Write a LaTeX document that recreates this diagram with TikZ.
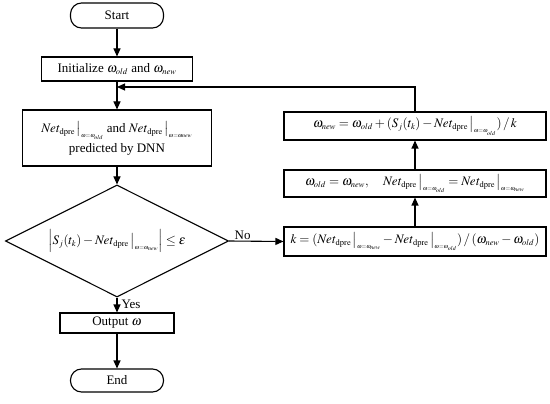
\documentclass[tikz,border=0pt]{standalone}
\usepackage{mathptmx}
\usepackage[no-math]{fontspec}
\setmainfont{Liberation Serif}
\DeclareMathSizes{13}{13}{8.5}{6}
\usetikzlibrary{arrows.meta,shapes.geometric}
\newcommand{\evalat}[2]{#1\,\big|_{\scriptscriptstyle #2}}
\newcommand{\Nd}{\mathit{Net}_{\mathrm{dpre}}}
\begin{document}
\begin{tikzpicture}[x=1pt,y=-1pt,
  every node/.style={font=\fontsize{13}{16}\selectfont},
  box/.style={draw,line width=1.1pt,inner sep=0pt,align=center},
  term/.style={box,rounded corners=11pt},
  conn/.style={line width=1.1pt,-{Triangle[length=8pt,width=7pt]}},
  lbl/.style={inner sep=1pt}]
\useasboundingbox (0,0) rectangle (550,404);
\node[term,minimum width=93pt,minimum height=25pt] (start) at (117,15.5) {Start};
\node[box,minimum width=151pt,minimum height=24pt] (init) at (117,69) {Initialize $\omega_{old}$ and $\omega_{new}$};
\node[box,minimum width=189pt,minimum height=56pt] (net) at (117,138)
  {$\evalat{\Nd}{\omega=\omega_{old}}$ and $\evalat{\Nd}{\omega=\omega_{new}}$\\[3pt] predicted by DNN};
\node[diamond,draw,line width=1.1pt,inner sep=0pt,minimum width=223pt,minimum height=112pt] (dia) at (117,241) {};
\node at (dia.center) {$\left|S_j(t_k)-\evalat{\Nd}{\omega=\omega_{new}}\right|\le\varepsilon$};
\node[box,minimum width=114pt,minimum height=20pt] (out) at (117,323) {Output $\omega$};
\node[term,minimum width=93pt,minimum height=23pt] (end) at (117,380.5) {End};
\node[box,minimum width=262pt,minimum height=28pt] (wnew) at (415,126)
  {$\omega_{new}=\omega_{old}+(S_j(t_k)-\evalat{\Nd}{\omega=\omega_{old}})\,/\,k$};
\node[box,minimum width=262pt,minimum height=27pt] (wold) at (415,183.5)
  {$\omega_{old}=\omega_{new},\quad \evalat{\Nd}{\omega=\omega_{old}}=\evalat{\Nd}{\omega=\omega_{new}}$};
\node[box,minimum width=262pt,minimum height=29pt] (kbox) at (415,241.5)
  {$k=(\evalat{\Nd}{\omega=\omega_{new}}-\evalat{\Nd}{\omega=\omega_{old}})\,/\,(\omega_{new}-\omega_{old})$};
\coordinate (j) at (117,87);
\draw[conn] (start) -- (init);
\draw[conn] (init) -- (net);
\draw[conn] (net) -- (dia);
\draw[conn] (dia) -- (out) node[lbl,pos=0.45,anchor=west,xshift=3pt] {Yes};
\draw[conn] (out) -- (end);
\draw[conn] (dia.east) -- (kbox.west) node[lbl,pos=0.25,anchor=south] {No};
\draw[conn] (kbox) -- (wold);
\draw[conn] (wold) -- (wnew);
\draw[conn] (wnew.north) |- (j);
\end{tikzpicture}
\end{document}
